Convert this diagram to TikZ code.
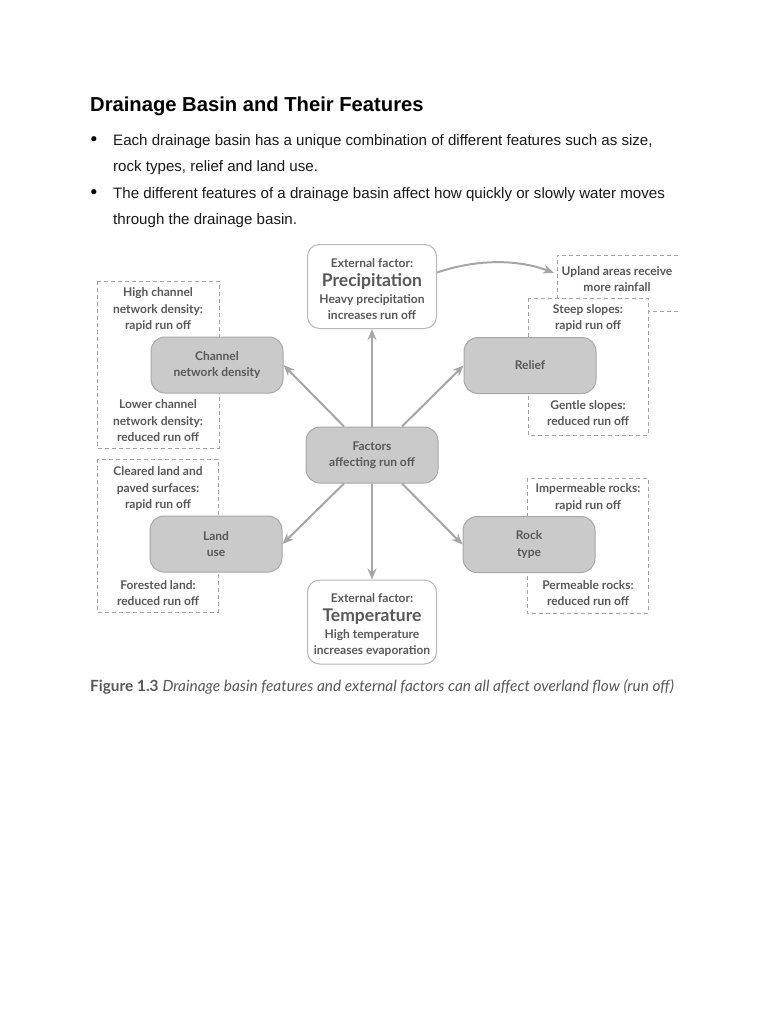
\documentclass[tikz,border=0pt]{standalone}
\usepackage{fontspec}
\setmainfont{Liberation Sans}
\newfontfamily\diafont{Lato}
\usetikzlibrary{arrows.meta}
\definecolor{arrowgray}{HTML}{A6A6A6}
\definecolor{nodefill}{HTML}{CACACA}
\definecolor{nodeline}{HTML}{A8A8A8}
\definecolor{txtgray}{HTML}{585858}
\definecolor{boxline}{HTML}{B8B8B8}
\definecolor{dashgray}{HTML}{A4A4A4}
\definecolor{pagetxt}{HTML}{1A1A1A}
\tikzset{
  graynode/.style={draw=nodeline, line width=1pt, fill=nodefill, rounded corners=14pt,
    minimum width=132pt, minimum height=56pt, inner sep=0pt, align=center,
    font=\diafont\bfseries\fontsize{12}{16.5}\selectfont, text=txtgray},
  whitebox/.style={draw=boxline, line width=1pt, fill=white, rounded corners=12pt,
    minimum width=129pt, minimum height=84pt, inner sep=0pt},
  wtxt/.style={align=center, inner sep=0pt,
    font=\diafont\bfseries\fontsize{12}{16.5}\selectfont, text=txtgray},
  dashbox/.style={draw=dashgray, line width=1pt, dash pattern=on 4pt off 3pt, fill=white},
  boxtxt/.style={align=center, inner sep=0pt, font=\diafont\bfseries\fontsize{12}{16.5}\selectfont, text=txtgray},
  conn/.style={draw=arrowgray, line width=2pt, -{Stealth[length=11pt,width=9pt]}},
  pagetext/.style={anchor=base west, inner sep=0pt, text=pagetxt, font=\fontsize{15.1}{17}\selectfont},
  bullet/.style={anchor=center, inner sep=0pt, text=black, font=\fontsize{19}{20}\selectfont},
}
\begin{document}
\begin{tikzpicture}[x=1pt,y=-1pt]
\useasboundingbox[fill=white] (0,0) rectangle (768,1024);

% Page text
\node[anchor=base west, inner sep=0pt, text=black, font=\bfseries\fontsize{20.2}{22}\selectfont] (title) at (90,112) {Drainage Basin and Their Features};
\node[bullet] (b1) at (94,141) {\textbullet};
\node[pagetext] (l1) at (113,145.5) {Each drainage basin has a unique combination of different features such as size,};
\node[pagetext] (l2) at (113,171.5) {rock types, relief and land use.};
\node[bullet] (b2) at (94,194) {\textbullet};
\node[pagetext] (l3) at (113,198.5) {The different features of a drainage basin affect how quickly or slowly water moves};
\node[pagetext] (l4) at (113,224.5) {through the drainage basin.};

% Upland box (open on the right, cut by the scan edge)
\draw[dashbox, fill=none] (678,255) -- (557,255) -- (557,311) -- (678,311);
\node[boxtxt] (upl) at (617,279) {Upland areas receive\\more rainfall};
\coordinate (uplin) at (554,273);

% Dashed boxes
\draw[dashbox] (97,281) rectangle (219,448);
\draw[dashbox] (528,298) rectangle (648,435);
\draw[dashbox] (97,459) rectangle (218,612);
\draw[dashbox] (527,478) rectangle (648,613);

\node[boxtxt] (chanhi) at (158,310) {High channel\\network density:\\rapid run off};
\node[boxtxt] (chanlo) at (158,421) {Lower channel\\network density:\\reduced run off};
\node[boxtxt] (relhi) at (588,318) {Steep slopes:\\rapid run off};
\node[boxtxt] (rello) at (588,413) {Gentle slopes:\\reduced run off};
\node[boxtxt] (landhi) at (158,489) {Cleared land and\\paved surfaces:\\rapid run off};
\node[boxtxt] (landlo) at (158,593) {Forested land:\\reduced run off};
\node[boxtxt] (rockhi) at (588,497.5) {Impermeable rocks:\\rapid run off};
\node[boxtxt] (rocklo) at (588,593) {Permeable rocks:\\reduced run off};

% Main nodes
\node[whitebox] (precip) at (372,286.5) {};
\node[wtxt] (preciptxt) at (372,289) {External factor:\\[2.5pt]{\fontsize{17.5}{19}\selectfont Precipitation}\\[0.5pt]Heavy precipitation\\[-0.5pt]increases run off};
\node[whitebox] (temp) at (372,622) {};
\node[wtxt] (temptxt) at (372,625.5) {External factor:\\[2.5pt]{\fontsize{17.5}{19}\selectfont Temperature}\\[0.5pt]High temperature\\[-0.5pt]increases evaporation};
\node[graynode] (ctr) at (372,455) {Factors\\affecting run off};
\node[graynode] (chan) at (217,365) {Channel\\network density};
\node[graynode] (relief) at (530,365.5) {Relief};
\node[graynode] (land) at (216,544) {Land\\use};
\node[graynode] (rock) at (529,544.5) {Rock\\type};

% Connectors
\draw[conn] (ctr.north) -- (precip.south);
\draw[conn] (ctr.south) -- (temp.north);
\draw[conn] ([xshift=-28pt]ctr.north) -- (chan.east);
\draw[conn] ([xshift=30pt]ctr.north) -- (relief.west);
\draw[conn] ([xshift=-28pt]ctr.south) -- (land.east);
\draw[conn] ([xshift=30pt]ctr.south) -- (rock.west);
\draw[conn] ([yshift=14pt]precip.east) .. controls (480,258) and (520,260) .. (uplin);

% Caption
\node[anchor=base west, inner sep=0pt, text=txtgray, font=\diafont\fontsize{15.4}{17}\selectfont] (cap) at (90,691) {\textbf{Figure 1.3} \textit{Drainage basin features and external factors can all affect overland flow (run off)}};
\end{tikzpicture}
\end{document}
